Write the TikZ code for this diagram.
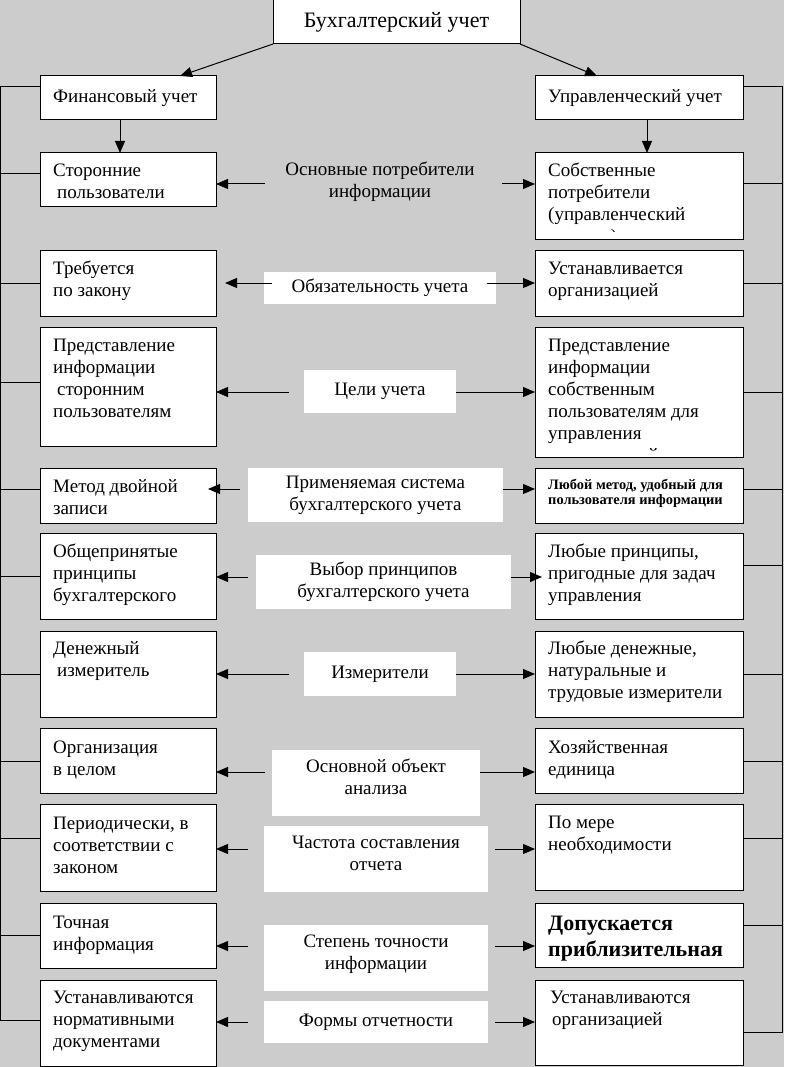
\documentclass[tikz,border=0pt]{standalone}
\usepackage{fontspec}
\setmainfont{Liberation Serif}
\usetikzlibrary{arrows.meta}
\definecolor{bg}{RGB}{204,204,204}
\tikzset{
  box/.style={draw=black, fill=white, line width=1pt, inner sep=0pt, outer sep=0pt, anchor=north west},
  lab/.style={fill=white, inner sep=0pt, outer sep=0pt, align=center, font=\fontsize{19}{22}\selectfont},
  txt/.style={inner sep=0pt, anchor=base west, font=\fontsize{19}{22}\selectfont},
  arr/.style={line width=1pt, -{Triangle[length=12pt,width=10pt]}},
  bus/.style={line width=1pt},
}
% name, x1, y1, x2, y2, baseline offset, text
\newcommand\mybox[7]{%
  \node[box, minimum width={(#4-#2)*1pt}, minimum height={(#5-#3)*1pt}] (#1) at (#2,#3) {};
  \node[txt] (#1t) at (#2+13,#3+#6) {\parbox[t]{220pt}{\raggedright #7}};
}
\newcommand\lsp{\hspace*{4pt}}
\begin{document}
\begin{tikzpicture}[x=1pt,y=-1pt]
\fill[bg] (0,0) rectangle (784,1067);
\useasboundingbox (0,0) rectangle (784,1067);

% top
\node[box, anchor=center, minimum width=247pt, minimum height=44pt, font=\fontsize{22}{26}\selectfont] (top) at (396.5,22) {Бухгалтерский учет};

% left column
\mybox{f1}{40}{76}{216}{120}{27}{Финансовый учет}
\mybox{f2}{40}{153}{216}{207}{24}{Сторонние\\\lsp пользователи}
\mybox{f3}{40}{250}{216}{316}{24}{Требуется\\по закону}
\mybox{f4}{40}{327}{216}{446}{24}{Представление\\информации\\\lsp сторонним\\пользователям}
\mybox{f5}{40}{468}{216}{523}{24}{Метод двойной\\записи}
\mybox{f6}{40}{533}{216}{619}{24}{Общепринятые\\принципы\\бухгалтерского}
\mybox{f7}{40}{631}{216}{717}{23}{Денежный\\\lsp измеритель}
\mybox{f8}{40}{728}{216}{793}{25}{Организация\\в целом}
\mybox{f9}{40}{804}{216}{891}{25}{Периодически, в\\соответствии с\\законом}
\mybox{f10}{40}{903}{216}{968}{25}{Точная\\информация}
\mybox{f11}{40}{980}{216}{1066}{23}{Устанавливаются\\нормативными\\документами}

% right column
\mybox{u1}{535}{76}{743}{120}{27}{Управленческий учет}
\node[box, minimum width=208pt, minimum height=87pt] (u2) at (535,153) {};
\begin{scope}
  \clip (535,153) rectangle (743,231.5);
  \node[txt] (u2t) at (548,177) {\parbox[t]{220pt}{\raggedright Собственные\\потребители\\(управленческий\\аппарат)}};
\end{scope}
\mybox{u3}{535}{250}{743}{316}{24}{Устанавливается\\организацией}
\node[box, minimum width=208pt, minimum height=130pt] (u4) at (535,327) {};
\begin{scope}
  \clip (535,327) rectangle (743,451.5);
  \node[txt] (u4t) at (548,351) {\parbox[t]{220pt}{\raggedright Представление\\информации\\собственным\\пользователям для\\управления\\организацией}};
\end{scope}
\node[box, minimum width=208pt, minimum height=55pt] (u5) at (535,468) {};
\node[inner sep=0pt, anchor=base west, font=\fontsize{14.4}{15}\selectfont\bfseries] (u5t) at (548,489) {\parbox[t]{220pt}{\raggedright Любой метод, удобный для\\пользователя информации}};
\mybox{u6}{535}{533}{743}{619}{24}{Любые принципы,\\пригодные для задач\\управления}
\mybox{u7}{535}{631}{743}{717}{23}{Любые денежные,\\натуральные и\\трудовые измерители}
\mybox{u8}{535}{728}{743}{793}{25}{Хозяйственная\\единица}
\mybox{u9}{535}{804}{743}{890}{24}{По мере\\необходимости}
\node[box, minimum width=208pt, minimum height=64pt] (u10) at (535,903) {};
\node[inner sep=0pt, anchor=base west, font=\fontsize{22}{26}\selectfont\bfseries] (u10t) at (548,930) {\parbox[t]{220pt}{\raggedright Допускается\\приблизительная}};
\mybox{u11}{535}{980}{743}{1065}{23}{\hspace*{2pt}Устанавливаются\\\lsp организацией}

% middle labels
\node[inner sep=0pt, align=center, font=\fontsize{19}{22}\selectfont] (l2) at (380,182) {Основные потребители\\информации};
\node[lab, minimum width=232pt, minimum height=32pt] (l3) at (380,288) {Обязательность учета};
\node[lab, minimum width=152pt, minimum height=43pt] (l4) at (380,391.5) {Цели учета};
\node[lab, minimum width=255pt, minimum height=54pt] (l5) at (375.5,495) {Применяемая система\\бухгалтерского учета};
\node[lab, minimum width=255pt, minimum height=54pt] (l6) at (383.5,582) {Выбор принципов\\бухгалтерского учета};
\node[lab, minimum width=152pt, minimum height=44pt] (l7) at (380,674) {Измерители};
\node[lab, minimum width=208pt, minimum height=66pt, text depth=12pt] (l8) at (376,783) {Основной объект\\анализа};
\node[lab, minimum width=224pt, minimum height=66pt, text depth=12pt] (l9) at (376,859) {Частота составления\\отчета};
\node[lab, minimum width=224pt, minimum height=66pt, text depth=12pt] (l10) at (376,958) {Степень точности\\информации};
\node[lab, minimum width=224pt, minimum height=42pt] (l11) at (376,1022) {Формы отчетности};

% arrow tails
\coordinate (a2l) at (265,184);  \coordinate (a2r) at (502,184);
\coordinate (a3l) at (272,283);  \coordinate (a3r) at (487,283);
\coordinate (a4l) at (289,392);  \coordinate (a4r) at (456,392);
\coordinate (a5l) at (240,489);  \coordinate (a5r) at (503,489);
\coordinate (a6l) at (248,577);  \coordinate (a6r) at (511,577);
\coordinate (a7l) at (289,674);  \coordinate (a7r) at (456,674);
\coordinate (a8l) at (265,772);  \coordinate (a8r) at (480,772);
\coordinate (a9l) at (248,849);  \coordinate (a9r) at (495,849);
\coordinate (a10l) at (248,946); \coordinate (a10r) at (495,946);
\coordinate (a11l) at (248,1022); \coordinate (a11r) at (495,1022);

% top arrows
\draw[arr] (top.south west) -- (f1.north -| 180,0);
\draw[arr] (top.south east) -- (u1.north -| 597,0);
\draw[arr] (f1.south -| 120,0) -- (f2.north -| 120,0);
\draw[arr] (u1.south -| 647,0) -- (u2.north -| 647,0);

% row arrows
\draw[arr] (a2l) -- (f2.east |- a2l);  \draw[arr] (a2r) -- (u2.west |- a2r);
\draw[arr, shorten >=9pt] (a3l) -- (f3.east |- a3l);  \draw[arr] (a3r) -- (u3.west |- a3r);
\draw[arr] (a4l) -- (f4.east |- a4l);  \draw[arr] (a4r) -- (u4.west |- a4r);
\draw[arr, shorten >=-8pt] (a5l) -- (f5.east |- a5l);  \draw[arr] (a5r) -- (u5.west |- a5r);
\draw[arr] (a6l) -- (f6.east |- a6l);  \draw[arr, shorten >=-7pt] (a6r) -- (u6.west |- a6r);
\draw[arr] (a7l) -- (f7.east |- a7l);  \draw[arr] (a7r) -- (u7.west |- a7r);
\draw[arr] (a8l) -- (f8.east |- a8l);  \draw[arr] (a8r) -- (u8.west |- a8r);
\draw[arr] (a9l) -- (f9.east |- a9l);  \draw[arr] (a9r) -- (u9.west |- a9r);
\draw[arr] (a10l) -- (f10.east |- a10l);  \draw[arr] (a10r) -- (u10.west |- a10r);
\draw[arr] (a11l) -- (f11.east |- a11l);  \draw[arr] (a11r) -- (u11.west |- a11r);

% left bus
\coordinate (lb) at (0.5,87);
\coordinate (rb) at (782.5,87);
\draw[bus] (f1.west |- 0,87) -- (lb) -- (lb |- 0,1020) -- (f11.west |- 0,1020);
\foreach \n/\y in {f2/174, f3/283, f4/382, f5/489, f6/576, f7/674, f8/761, f9/838, f10/935}
  \draw[bus] (\n.west |- 0,\y) -- (lb |- 0,\y);
% right bus
\draw[bus] (u1.east |- 0,87) -- (rb) -- (rb |- 0,1032) -- (u11.east |- 0,1032);
\foreach \n/\y in {u2/184, u3/283, u4/392, u5/489, u6/565, u7/674, u8/761, u9/838, u10/925}
  \draw[bus] (\n.east |- 0,\y) -- (rb |- 0,\y);
\end{tikzpicture}
\end{document}
